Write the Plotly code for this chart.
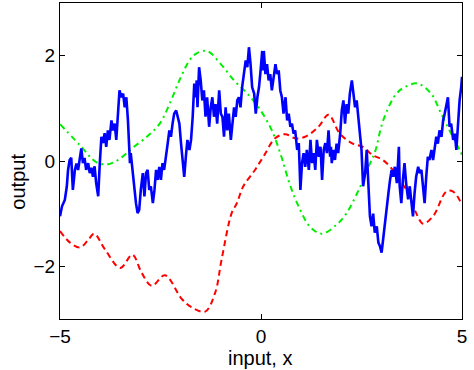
import plotly.graph_objects as go

# Blue: noisy sample path
blue_x = [-5.00,-4.95,-4.88,-4.83,-4.80,-4.76,-4.72,-4.68,-4.63,-4.59,-4.55,-4.51,-4.47,-4.43,-4.39,-4.35,-4.30,-4.26,-4.22,-4.18,
          -4.14,-4.10,-4.05,-4.01,-3.97,-3.93,-3.89,-3.85,-3.81,-3.77,-3.72,-3.68,-3.64,-3.60,-3.56,-3.52,-3.47,-3.43,-3.39,-3.35,
          -3.31,-3.28,-3.26,-3.24,-3.20,-3.15,-3.11,-3.07,-3.03,-2.99,-2.94,-2.90,-2.86,-2.82,-2.78,-2.74,-2.69,-2.65,-2.61,-2.57,
          -2.53,-2.49,-2.45,-2.41,-2.36,-2.32,-2.28,-2.24,-2.20,-2.16,-2.11,-2.07,-2.03,-1.99,-1.95,-1.91,-1.87,-1.83,-1.78,-1.74,
          -1.70,-1.66,-1.62,-1.60,-1.58,-1.54,-1.50,-1.46,-1.42,-1.38,-1.34,-1.29,-1.25,-1.21,-1.17,-1.13,-1.09,-1.04,-1.00,-0.96,
          -0.92,-0.88,-0.84,-0.80,-0.75,-0.71,-0.67,-0.63,-0.59,-0.55,-0.51,-0.47,-0.42,-0.38,-0.34,-0.30,-0.26,-0.22,-0.17,-0.13,
          -0.09,-0.05,-0.01,0.03,0.05,0.07,0.11,0.15,0.19,0.23,0.27,0.32,0.36,0.40,0.44,0.48,0.52,0.56,0.61,0.65,
          0.69,0.73,0.77,0.81,0.85,0.90,0.94,0.98,1.02,1.06,1.10,1.14,1.19,1.23,1.27,1.31,1.35,1.39,1.44,1.48,
          1.52,1.56,1.60,1.64,1.68,1.72,1.74,1.76,1.80,1.84,1.88,1.92,1.97,2.01,2.05,2.09,2.13,2.17,2.21,2.26,
          2.30,2.34,2.38,2.42,2.46,2.50,2.54,2.59,2.63,2.67,2.71,2.75,2.79,2.83,2.88,2.92,2.96,3.00,3.04,3.08,
          3.13,3.17,3.21,3.25,3.29,3.33,3.38,3.41,3.43,3.45,3.49,3.53,3.57,3.61,3.66,3.70,3.74,3.78,3.82,3.86,
          3.91,3.95,3.99,4.03,4.07,4.11,4.15,4.19,4.24,4.28,4.32,4.36,4.40,4.44,4.49,4.53,4.57,4.61,4.65,4.69,
          4.73,4.78,4.82,4.86,4.90,4.94,4.98,5.00]
blue_y = [-1.05,-0.86,-0.74,-0.48,-0.17,0.02,0.06,-0.55,-0.17,-0.05,-0.17,0.08,0.24,-0.04,0.06,-0.17,-0.04,-0.23,-0.13,-0.30,
          -0.10,-0.42,-0.67,-0.04,0.46,0.34,0.53,0.27,0.58,0.40,0.77,0.58,0.71,0.40,0.90,1.34,1.21,1.28,1.02,1.21,
          0.77,0.08,-0.04,0.15,-0.17,-0.48,-0.80,-0.99,-0.93,-0.55,-0.23,-0.67,-0.23,-0.17,-0.55,-0.48,-0.80,-0.55,-0.17,-0.36,
          -0.11,-0.36,-0.04,-0.17,0.08,0.34,0.58,0.46,0.71,0.90,0.96,0.83,0.71,0.34,-0.04,-0.30,0.08,0.40,0.21,0.40,
          0.83,1.47,1.21,1.53,1.02,1.78,1.53,1.15,1.34,0.84,1.21,0.65,1.02,1.21,0.84,1.08,0.71,1.34,0.90,0.84,
          0.46,1.02,0.58,0.90,0.40,0.71,1.02,0.84,1.15,1.21,1.02,1.40,1.72,1.91,1.78,2.16,1.84,1.40,1.28,0.90,
          1.21,1.40,1.72,2.09,1.72,2.09,1.65,1.84,1.53,1.65,1.34,1.65,1.84,1.65,1.72,1.34,1.21,0.90,1.21,0.77,
          0.90,0.65,0.71,0.52,0.58,0.21,0.34,-0.55,-0.04,0.15,-0.11,0.21,-0.17,0.40,-0.04,0.15,-0.17,0.40,0.08,0.27,
          -0.36,0.21,0.34,0.15,0.58,0.08,0.27,-0.04,0.21,0.02,0.33,0.15,0.52,0.96,1.15,0.71,1.08,0.90,1.28,1.53,
          1.21,1.02,1.15,0.84,0.65,0.21,-0.48,-0.23,0.21,-0.36,-1.05,-1.24,-1.00,-1.36,-1.24,-1.55,-1.62,-1.74,-1.50,-1.24,
          -0.92,-0.61,-0.36,-0.17,-0.30,-0.11,-0.42,0.02,0.27,-0.48,-0.80,-0.36,-0.04,-0.42,-0.73,-0.48,-0.73,-1.05,-0.61,-0.30,
          -0.11,-0.23,-0.17,-0.55,-0.80,-0.30,0.08,0.02,0.21,0.02,0.27,0.46,0.33,0.58,0.46,0.77,0.90,1.08,1.21,0.65,
          0.71,0.40,0.52,0.21,0.71,1.15,1.40,1.60]

# Green dash-dot smooth curve
green_x = [-5.00,-4.63,-4.47,-4.30,-4.22,-4.05,-3.80,-3.55,-3.34,-3.26,-2.84,-2.52,-2.27,-2.03,-1.78,-1.61,-1.34,-1.00,-0.67,-0.34,
           -0.01,0.27,0.50,0.72,0.97,1.22,1.51,1.88,2.12,2.46,2.71,2.84,3.04,3.37,3.65,3.90,4.23,4.48,4.73,4.94,5.00]
green_y = [0.70,0.40,0.27,0.12,0.05,-0.04,-0.06,0.02,0.15,0.21,0.46,0.71,1.09,1.53,1.91,2.04,2.09,1.84,1.53,1.28,
           0.96,0.58,0.10,-0.45,-0.92,-1.25,-1.38,-1.21,-1.00,-0.50,-0.05,0.18,0.77,1.28,1.43,1.47,1.28,0.90,0.52,0.21,0.12]

# Red dashed smooth curve
red_x = [-5.00,-4.75,-4.50,-4.30,-4.15,-3.88,-3.50,-3.20,-2.97,-2.72,-2.39,-1.97,-1.72,-1.39,-1.14,-0.98,-0.73,-0.60,-0.44,-0.15,
         0.08,0.35,0.60,0.85,1.10,1.43,1.68,1.96,2.28,2.53,2.78,3.03,3.28,3.45,3.69,3.86,4.03,4.28,4.61,4.78,5.00]
red_y = [-1.33,-1.55,-1.64,-1.50,-1.38,-1.68,-2.03,-1.78,-2.12,-2.37,-2.17,-2.62,-2.78,-2.86,-2.50,-1.87,-0.99,-0.80,-0.48,-0.17,
         0.11,0.43,0.51,0.43,0.46,0.65,0.88,0.52,0.33,0.27,0.11,0.02,-0.17,-0.36,-0.64,-0.99,-1.19,-1.05,-0.58,-0.58,-0.83]

x_ticks = [-5, 0, 5]
y_ticks = [-2, 0, 2]

fig = go.Figure()
fig.add_trace(go.Scatter(x=red_x, y=red_y, mode="lines", line=dict(color="#ff0000", width=2, dash="6px,4px", shape="spline")))
fig.add_trace(go.Scatter(x=green_x, y=green_y, mode="lines", line=dict(color="#00ee00", width=2, dash="6px,4px,2px,4px", shape="spline")))
fig.add_trace(go.Scatter(x=blue_x, y=blue_y, mode="lines", line=dict(color="#0000ff", width=2.6)))

axis_common = dict(showline=True, linecolor="black", linewidth=1, mirror="ticks", ticks="inside",
                   ticklen=5, tickcolor="black", showgrid=False, zeroline=False, automargin=False,
                   tickfont=dict(family="Liberation Sans, Arial", size=19, color="black"))
fig.update_xaxes(range=[-5, 5], tickvals=x_ticks, **axis_common)
fig.update_yaxes(range=[-3, 3], tickvals=y_ticks, **axis_common)

fig.update_layout(
    width=474, height=370,
    margin=dict(l=60, r=12, t=3, b=51),
    plot_bgcolor="white", paper_bgcolor="white",
    showlegend=False,
    annotations=[
        dict(text="input, x", xref="paper", yref="paper", x=0.497, y=-0.124, showarrow=False,
             font=dict(family="Liberation Sans, Arial", size=20, color="black"), xanchor="center", yanchor="middle"),
        dict(text="output", xref="paper", yref="paper", x=-0.105, y=0.434, showarrow=False, textangle=-90,
             font=dict(family="Liberation Sans, Arial", size=20, color="black"), xanchor="center", yanchor="middle"),
    ],
)
fig.write_html("out.html", config={"displayModeBar": False},
               post_script="document.body.style.margin='0';document.body.style.padding='0';")
